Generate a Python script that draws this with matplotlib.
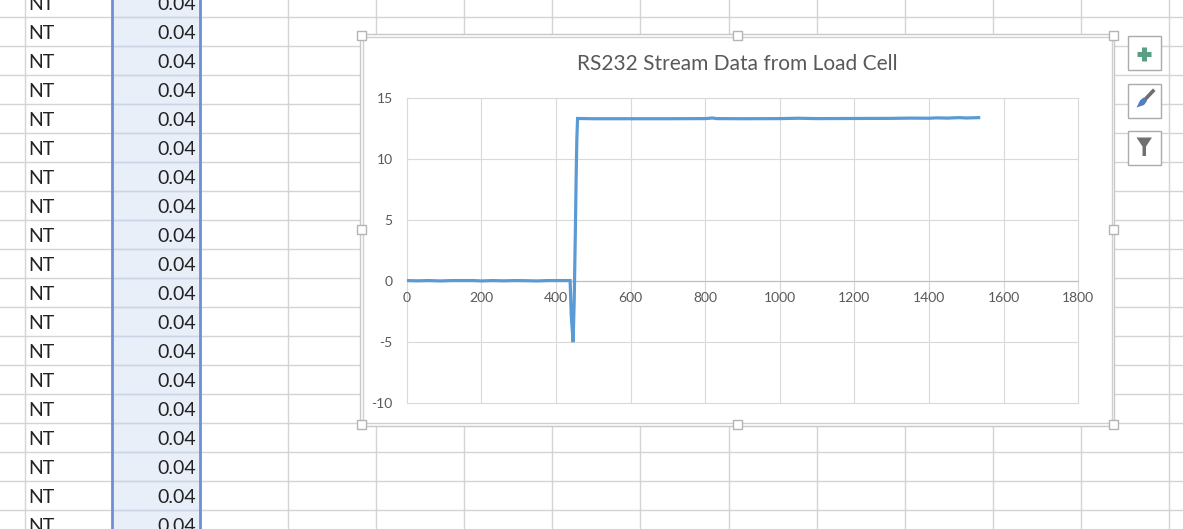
import matplotlib.pyplot as plt
from matplotlib.patches import Rectangle, Polygon

plt.rcParams["axes.unicode_minus"] = False

# ==========================================
# DATA
# ==========================================

chart_title = "RS232 Stream Data from Load Cell"

load_x = [0, 30, 60, 90, 120, 150, 180, 200, 230, 260, 290, 320, 350, 380,
          410, 438, 441, 446, 449, 452, 454, 456, 458, 500, 600, 700, 800,
          820, 830, 900, 1000, 1050, 1080, 1100, 1200, 1300, 1350, 1400,
          1420, 1450, 1480, 1500, 1533]
load_y = [0.04, 0.02, 0.04, 0.01, 0.04, 0.04, 0.04, 0.01, 0.04, 0.02, 0.04,
          0.03, 0.01, 0.04, 0.04, 0.04, -2.8, -5.0, -1.5, 4.0, 8.2, 11.6,
          13.3, 13.28, 13.28, 13.28, 13.29, 13.34, 13.29, 13.28, 13.29,
          13.32, 13.30, 13.29, 13.30, 13.31, 13.33, 13.32, 13.35, 13.33,
          13.37, 13.34, 13.37]

x_ticks = [0, 200, 400, 600, 800, 1000, 1200, 1400, 1600, 1800]
y_ticks = [-10, -5, 0, 5, 10, 15]

cell_col_a = ["NT"] * 19
cell_col_b = ["0.04"] * 19

# ==========================================
# FIGURE + SPREADSHEET BACKGROUND
# ==========================================

W, H = 1183, 529
fig = plt.figure(figsize=(W / 100, H / 100), dpi=100)
fig.patch.set_facecolor("white")

bg = fig.add_axes([0, 0, 1, 1])
bg.set_xlim(0, W)
bg.set_ylim(H, 0)
bg.axis("off")

grid_col = "#D4D4D4"
col_lines = [25, 112, 200, 288, 376, 464, 552, 640, 729, 817, 905, 993, 1081, 1169]
row_lines = [17.3 + 29 * k for k in range(18)]

# selected column fill
bg.add_patch(Rectangle((112, 0), 88, H, facecolor="#E9EFF9", edgecolor="none", zorder=0))

for yy in row_lines:
    bg.plot([0, W], [yy, yy], color=grid_col, lw=1, zorder=1)
    bg.plot([113, 199], [yy, yy], color="#CBD5E6", lw=1, zorder=1.5)
for xx in col_lines:
    if xx in (112, 200):
        continue
    bg.plot([xx, xx], [0, H], color=grid_col, lw=1, zorder=1)
for xx in (112, 200):
    bg.plot([xx, xx], [0, H], color="#6C8FD6", lw=2, zorder=2)

for k in range(len(cell_col_a)):
    cy = 2.8 + 29 * k + 1.5
    bg.text(28, cy, cell_col_a[k], ha="left", va="center", fontsize=14,
            family=["Lato", "DejaVu Sans"], color="#222222", zorder=3)
    bg.text(196, cy, cell_col_b[k], ha="right", va="center", fontsize=14,
            family=["Lato", "DejaVu Sans"], color="#222222", zorder=3)

# ==========================================
# CHART FRAME, HANDLES, SIDE BUTTONS
# ==========================================

bg.add_patch(Rectangle((360.5, 34), 754, 392, facecolor="white",
                       edgecolor="#C8C8C8", lw=1, zorder=4))
bg.add_patch(Rectangle((362.7, 36.7), 749.8, 386.6, facecolor="white",
                       edgecolor="#D0D0D0", lw=1, zorder=4.1))

for hx, hy in [(361.5, 35.5), (738, 35.5), (1113.5, 35.5),
               (361.5, 229.5), (1113.5, 229.5),
               (361.5, 424.5), (738, 424.5), (1113.5, 424.5)]:
    bg.add_patch(Rectangle((hx - 4.5, hy - 4.5), 9, 9, facecolor="white",
                           edgecolor="#B4B4B4", lw=1, zorder=5))

for by in (36, 83.5, 130.5):
    bg.add_patch(Rectangle((1127.7, by), 33.6, 34, facecolor="white",
                           edgecolor="#ABABAB", lw=1, zorder=5))

# plus
bg.plot([1137, 1151], [53.5, 53.5], color="#5A9E84", lw=3.6, solid_capstyle="butt", zorder=6)
bg.plot([1144, 1144], [46.5, 60.5], color="#5A9E84", lw=3.6, solid_capstyle="butt", zorder=6)
# brush
bg.plot([1145, 1153], [99.5, 91], color="#6E6E6E", lw=2.6, zorder=6)
bg.add_patch(Polygon([(1136.5, 107.5), (1140, 100.5), (1143.5, 97.5),
                      (1147, 101), (1144, 105)], closed=True,
                     facecolor="#4F7FC0", edgecolor="none", zorder=6))
# funnel
bg.add_patch(Polygon([(1136.5, 137.5), (1152, 137.5), (1146, 146.5),
                      (1146, 156), (1142.5, 156), (1142.5, 146.5)], closed=True,
                     facecolor="#707070", edgecolor="none", zorder=6))

# ==========================================
# LOAD CELL CHART
# ==========================================

left, right, top, bottom = 406.7, 1078.3, 97.7, 403.3
ax = fig.add_axes([left / W, (H - bottom) / H, (right - left) / W, (bottom - top) / H])
ax.set_facecolor("none")
ax.set_zorder(10)

ax.set_xlim(0, 1800)
ax.set_ylim(-10, 15)

for v in x_ticks:
    ax.axvline(v, color="#D9D9D9", lw=0.8, clip_on=False, zorder=1)
for v in y_ticks:
    if v != 0:
        ax.axhline(v, color="#D9D9D9", lw=0.8, clip_on=False, zorder=1)

for s in ["left", "right", "top"]:
    ax.spines[s].set_visible(False)
ax.spines["bottom"].set_position(("data", 0))
ax.spines["bottom"].set_color("#BFBFBF")
ax.spines["bottom"].set_linewidth(0.9)
ax.spines["bottom"].set_zorder(1.5)

ax.plot(load_x, load_y, color="#5B9BD5", lw=2.3, solid_joinstyle="miter", zorder=3)

ax.set_xticks(x_ticks)
ax.set_yticks(y_ticks)
ax.set_xticklabels([str(v) for v in x_ticks])
ax.set_yticklabels([str(v) for v in y_ticks])
ax.tick_params(axis="both", length=0, labelsize=10, labelcolor="#595959")
ax.tick_params(axis="x", pad=8)
ax.tick_params(axis="y", pad=10)
for lbl in ax.get_xticklabels() + ax.get_yticklabels():
    lbl.set_family(["Lato", "DejaVu Sans"])

bg.text(737, 64, chart_title, ha="center", va="center", fontsize=15,
        family=["Lato", "DejaVu Sans"], color="#595959", zorder=6)

plt.savefig("out.png", dpi=100)
plt.close()
